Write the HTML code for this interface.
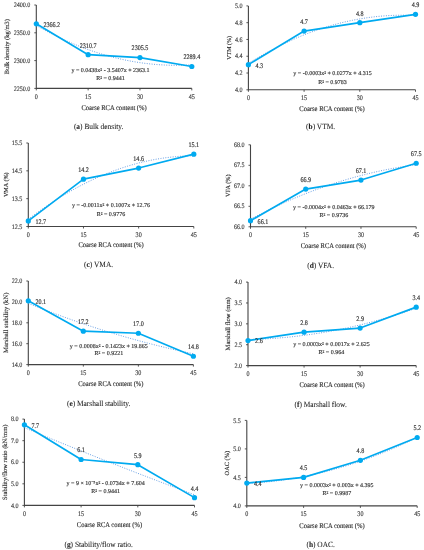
<!DOCTYPE html>
<html><head><meta charset="utf-8"><style>
html,body{margin:0;padding:0;background:#fff;width:424px;height:550px;overflow:hidden}
svg{display:block;will-change:transform}
text{font-family:"Liberation Serif",serif;fill:#2e2e2e;stroke:#2e2e2e;stroke-width:0.14px;text-rendering:geometricPrecision}
.tk{fill:#3e3e3e;stroke:#3e3e3e}
.cap{fill:#1a1a1a;stroke:#1a1a1a;stroke-width:0.06px}
</style></head><body>
<svg width="424" height="550" viewBox="0 0 424 550">
<path d="M36.3 5V88.4H191.8" fill="none" stroke="#444" stroke-width="1.1"/>
<text transform="translate(30.4 90.5) scale(1 1.1)" text-anchor="end" font-size="6.1" class="tk">2250.0</text>
<text transform="translate(30.4 62.7) scale(1 1.1)" text-anchor="end" font-size="6.1" class="tk">2300.0</text>
<text transform="translate(30.4 34.9) scale(1 1.1)" text-anchor="end" font-size="6.1" class="tk">2350.0</text>
<text transform="translate(30.4 7.1) scale(1 1.1)" text-anchor="end" font-size="6.1" class="tk">2400.0</text>
<text transform="translate(36.3 98.7) scale(1 1.15)" text-anchor="middle" font-size="6.1" class="tk">0</text>
<text transform="translate(88.13 98.7) scale(1 1.15)" text-anchor="middle" font-size="6.1" class="tk">15</text>
<text transform="translate(139.97 98.7) scale(1 1.15)" text-anchor="middle" font-size="6.1" class="tk">30</text>
<text transform="translate(191.8 98.7) scale(1 1.15)" text-anchor="middle" font-size="6.1" class="tk">45</text>
<path d="M34.3 88.4h2M34.3 60.6h2M34.3 32.8h2M34.3 5h2M36.3 88.4v2M88.13 88.4v2M139.97 88.4v2M191.8 88.4v2" stroke="#444" stroke-width="0.9"/>
<polyline points="36.3,25.49 39.76,27.44 43.21,29.33 46.67,31.18 50.12,32.98 53.58,34.73 57.03,36.43 60.49,38.08 63.94,39.69 67.4,41.24 70.86,42.75 74.31,44.2 77.77,45.61 81.22,46.97 84.68,48.28 88.13,49.55 91.59,50.76 95.04,51.93 98.5,53.04 101.96,54.11 105.41,55.13 108.87,56.1 112.32,57.02 115.78,57.9 119.23,58.72 122.69,59.5 126.14,60.22 129.6,60.9 133.06,61.53 136.51,62.11 139.97,62.65 143.42,63.13 146.88,63.57 150.33,63.95 153.79,64.29 157.24,64.58 160.7,64.82 164.16,65.01 167.61,65.15 171.07,65.25 174.52,65.29 177.98,65.29 181.43,65.24 184.89,65.14 188.34,64.99 191.8,64.79" fill="none" stroke="#5a96e0" stroke-width="0.95" stroke-dasharray="0.95 1.5"/>
<polyline points="36.3,23.79 88.13,54.65 139.97,57.54 191.8,66.49" fill="none" stroke="#00aaf0" stroke-width="1.7" stroke-linejoin="round"/>
<circle cx="36.3" cy="23.79" r="2.6" fill="#00aaf0"/>
<circle cx="88.13" cy="54.65" r="2.6" fill="#00aaf0"/>
<circle cx="139.97" cy="57.54" r="2.6" fill="#00aaf0"/>
<circle cx="191.8" cy="66.49" r="2.6" fill="#00aaf0"/>
<text transform="translate(43.4 26.69) scale(1 1.15)" font-size="6.1">2366.2</text>
<text transform="translate(88.13 47.55) scale(1 1.15)" text-anchor="middle" font-size="6.1">2310.7</text>
<text transform="translate(139.97 50.44) scale(1 1.15)" text-anchor="middle" font-size="6.1">2305.5</text>
<text transform="translate(191.8 59.39) scale(1 1.15)" text-anchor="middle" font-size="6.1">2289.4</text>
<text transform="translate(110.5 72.3) scale(1 1.0)" text-anchor="middle" font-size="6.0">y = 0.0438x² - 3.5407x + 2363.1</text>
<text transform="translate(110.5 80.1) scale(1 1.0)" text-anchor="middle" font-size="6.0">R² = 0.9441</text>
<text transform="translate(9.3 46.7) rotate(-90) scale(1 1.0)" text-anchor="middle" font-size="6.46">Bulk density (kg/m3)</text>
<text transform="translate(114.05 109.7) scale(1 1.1)" text-anchor="middle" font-size="6.55">Coarse RCA content (%)</text>
<text transform="translate(98.6 129.1) scale(1 1.08)" text-anchor="middle" font-size="7.4" class="cap">(<tspan font-weight="bold">a</tspan>) Bulk density.</text>
<path d="M248.4 5.9V89.8H415.5" fill="none" stroke="#444" stroke-width="1.1"/>
<text transform="translate(242.5 91.9) scale(1 1.1)" text-anchor="end" font-size="6.1" class="tk">4.0</text>
<text transform="translate(242.5 75.12) scale(1 1.1)" text-anchor="end" font-size="6.1" class="tk">4.2</text>
<text transform="translate(242.5 58.34) scale(1 1.1)" text-anchor="end" font-size="6.1" class="tk">4.4</text>
<text transform="translate(242.5 41.56) scale(1 1.1)" text-anchor="end" font-size="6.1" class="tk">4.6</text>
<text transform="translate(242.5 24.78) scale(1 1.1)" text-anchor="end" font-size="6.1" class="tk">4.8</text>
<text transform="translate(242.5 8) scale(1 1.1)" text-anchor="end" font-size="6.1" class="tk">5.0</text>
<text transform="translate(248.4 100.1) scale(1 1.15)" text-anchor="middle" font-size="6.1" class="tk">0</text>
<text transform="translate(304.1 100.1) scale(1 1.15)" text-anchor="middle" font-size="6.1" class="tk">15</text>
<text transform="translate(359.8 100.1) scale(1 1.15)" text-anchor="middle" font-size="6.1" class="tk">30</text>
<text transform="translate(415.5 100.1) scale(1 1.15)" text-anchor="middle" font-size="6.1" class="tk">45</text>
<path d="M246.4 89.8h2M246.4 73.02h2M246.4 56.24h2M246.4 39.46h2M246.4 22.68h2M246.4 5.9h2M248.4 89.8v2M304.1 89.8v2M359.8 89.8v2M415.5 89.8v2" stroke="#444" stroke-width="0.9"/>
<polyline points="248.4,63.37 252.11,61.08 255.83,58.84 259.54,56.66 263.25,54.53 266.97,52.46 270.68,50.45 274.39,48.49 278.11,46.59 281.82,44.75 285.53,42.96 289.25,41.22 292.96,39.54 296.67,37.92 300.39,36.36 304.1,34.85 307.81,33.39 311.53,31.99 315.24,30.65 318.95,29.36 322.67,28.13 326.38,26.96 330.09,25.84 333.81,24.78 337.52,23.77 341.23,22.82 344.95,21.92 348.66,21.09 352.37,20.3 356.09,19.58 359.8,18.9 363.51,18.29 367.23,17.73 370.94,17.23 374.65,16.78 378.37,16.39 382.08,16.05 385.79,15.77 389.51,15.55 393.22,15.38 396.93,15.27 400.65,15.21 404.36,15.21 408.07,15.27 411.79,15.38 415.5,15.55" fill="none" stroke="#5a96e0" stroke-width="0.95" stroke-dasharray="0.95 1.5"/>
<polyline points="248.4,64.63 304.1,31.07 359.8,22.68 415.5,14.29" fill="none" stroke="#00aaf0" stroke-width="1.7" stroke-linejoin="round"/>
<circle cx="248.4" cy="64.63" r="2.6" fill="#00aaf0"/>
<circle cx="304.1" cy="31.07" r="2.6" fill="#00aaf0"/>
<circle cx="359.8" cy="22.68" r="2.6" fill="#00aaf0"/>
<circle cx="415.5" cy="14.29" r="2.6" fill="#00aaf0"/>
<text transform="translate(255.5 67.53) scale(1 1.15)" font-size="6.1">4.3</text>
<text transform="translate(304.1 23.97) scale(1 1.15)" text-anchor="middle" font-size="6.1">4.7</text>
<text transform="translate(359.8 15.58) scale(1 1.15)" text-anchor="middle" font-size="6.1">4.8</text>
<text transform="translate(415.5 7.19) scale(1 1.15)" text-anchor="middle" font-size="6.1">4.9</text>
<text transform="translate(332.5 75.3) scale(1 1.0)" text-anchor="middle" font-size="6.0">y = -0.0003x² + 0.0277x + 4.315</text>
<text transform="translate(332.5 83.7) scale(1 1.0)" text-anchor="middle" font-size="6.0">R² = 0.9783</text>
<text transform="translate(230.9 47.85) rotate(-90) scale(1 1.0)" text-anchor="middle" font-size="6.02">VTM (%)</text>
<text transform="translate(331.95 111) scale(1 1.1)" text-anchor="middle" font-size="6.55">Coarse RCA content (%)</text>
<text transform="translate(320.6 128.8) scale(1 1.08)" text-anchor="middle" font-size="7.4" class="cap">(<tspan font-weight="bold">b</tspan>) VTM.</text>
<path d="M28.3 143V226.5H193.8" fill="none" stroke="#444" stroke-width="1.1"/>
<text transform="translate(22.4 228.6) scale(1 1.1)" text-anchor="end" font-size="6.1" class="tk">12.5</text>
<text transform="translate(22.4 200.77) scale(1 1.1)" text-anchor="end" font-size="6.1" class="tk">13.5</text>
<text transform="translate(22.4 172.93) scale(1 1.1)" text-anchor="end" font-size="6.1" class="tk">14.5</text>
<text transform="translate(22.4 145.1) scale(1 1.1)" text-anchor="end" font-size="6.1" class="tk">15.5</text>
<text transform="translate(28.3 236.8) scale(1 1.15)" text-anchor="middle" font-size="6.1" class="tk">0</text>
<text transform="translate(83.47 236.8) scale(1 1.15)" text-anchor="middle" font-size="6.1" class="tk">15</text>
<text transform="translate(138.63 236.8) scale(1 1.15)" text-anchor="middle" font-size="6.1" class="tk">30</text>
<text transform="translate(193.8 236.8) scale(1 1.15)" text-anchor="middle" font-size="6.1" class="tk">45</text>
<path d="M26.3 226.5h2M26.3 198.67h2M26.3 170.83h2M26.3 143h2M28.3 226.5v2M83.47 226.5v2M138.63 226.5v2M193.8 226.5v2" stroke="#444" stroke-width="0.9"/>
<polyline points="28.3,219.26 31.98,216.49 35.66,213.78 39.33,211.14 43.01,208.55 46.69,206.03 50.37,203.57 54.04,201.17 57.72,198.83 61.4,196.55 65.08,194.34 68.76,192.18 72.43,190.09 76.11,188.07 79.79,186.1 83.47,184.19 87.14,182.35 90.82,180.57 94.5,178.85 98.18,177.19 101.86,175.6 105.53,174.06 109.21,172.59 112.89,171.18 116.57,169.83 120.24,168.54 123.92,167.32 127.6,166.16 131.28,165.06 134.96,164.02 138.63,163.04 142.31,162.12 145.99,161.27 149.67,160.48 153.34,159.75 157.02,159.08 160.7,158.48 164.38,157.93 168.06,157.45 171.73,157.03 175.41,156.67 179.09,156.37 182.77,156.14 186.44,155.96 190.12,155.85 193.8,155.8" fill="none" stroke="#5a96e0" stroke-width="0.95" stroke-dasharray="0.95 1.5"/>
<polyline points="28.3,220.93 83.47,179.18 138.63,168.05 193.8,154.13" fill="none" stroke="#00aaf0" stroke-width="1.7" stroke-linejoin="round"/>
<circle cx="28.3" cy="220.93" r="2.6" fill="#00aaf0"/>
<circle cx="83.47" cy="179.18" r="2.6" fill="#00aaf0"/>
<circle cx="138.63" cy="168.05" r="2.6" fill="#00aaf0"/>
<circle cx="193.8" cy="154.13" r="2.6" fill="#00aaf0"/>
<text transform="translate(35.4 223.83) scale(1 1.15)" font-size="6.1">12.7</text>
<text transform="translate(83.47 172.08) scale(1 1.15)" text-anchor="middle" font-size="6.1">14.2</text>
<text transform="translate(138.63 160.95) scale(1 1.15)" text-anchor="middle" font-size="6.1">14.6</text>
<text transform="translate(193.8 147.03) scale(1 1.15)" text-anchor="middle" font-size="6.1">15.1</text>
<text transform="translate(111 207.1) scale(1 1.0)" text-anchor="middle" font-size="6.0">y = -0.0011x² + 0.1007x + 12.76</text>
<text transform="translate(111 215.5) scale(1 1.0)" text-anchor="middle" font-size="6.0">R² = 0.9776</text>
<text transform="translate(7.8 184.75) rotate(-90) scale(1 1.0)" text-anchor="middle" font-size="6.13">VMA (%)</text>
<text transform="translate(111.05 246.9) scale(1 1.1)" text-anchor="middle" font-size="6.55">Coarse RCA content (%)</text>
<text transform="translate(98.6 266.9) scale(1 1.08)" text-anchor="middle" font-size="7.4" class="cap">(<tspan font-weight="bold">c</tspan>) VMA.</text>
<path d="M250.5 144.8V226.8H416.2" fill="none" stroke="#444" stroke-width="1.1"/>
<text transform="translate(244.6 228.9) scale(1 1.1)" text-anchor="end" font-size="6.1" class="tk">66.0</text>
<text transform="translate(244.6 208.4) scale(1 1.1)" text-anchor="end" font-size="6.1" class="tk">66.5</text>
<text transform="translate(244.6 187.9) scale(1 1.1)" text-anchor="end" font-size="6.1" class="tk">67.0</text>
<text transform="translate(244.6 167.4) scale(1 1.1)" text-anchor="end" font-size="6.1" class="tk">67.5</text>
<text transform="translate(244.6 146.9) scale(1 1.1)" text-anchor="end" font-size="6.1" class="tk">68.0</text>
<text transform="translate(250.5 237.1) scale(1 1.15)" text-anchor="middle" font-size="6.1" class="tk">0</text>
<text transform="translate(305.73 237.1) scale(1 1.15)" text-anchor="middle" font-size="6.1" class="tk">15</text>
<text transform="translate(360.97 237.1) scale(1 1.15)" text-anchor="middle" font-size="6.1" class="tk">30</text>
<text transform="translate(416.2 237.1) scale(1 1.15)" text-anchor="middle" font-size="6.1" class="tk">45</text>
<path d="M248.5 226.8h2M248.5 206.3h2M248.5 185.8h2M248.5 165.3h2M248.5 144.8h2M250.5 226.8v2M305.73 226.8v2M360.97 226.8v2M416.2 226.8v2" stroke="#444" stroke-width="0.9"/>
<polyline points="250.5,219.13 254.18,217.2 257.86,215.31 261.55,213.44 265.23,211.61 268.91,209.81 272.59,208.05 276.28,206.31 279.96,204.61 283.64,202.95 287.32,201.31 291,199.71 294.69,198.14 298.37,196.6 302.05,195.1 305.73,193.63 309.42,192.19 313.1,190.79 316.78,189.42 320.46,188.08 324.14,186.77 327.83,185.5 331.51,184.26 335.19,183.05 338.87,181.87 342.56,180.73 346.24,179.62 349.92,178.54 353.6,177.5 357.28,176.49 360.97,175.51 364.65,174.56 368.33,173.65 372.01,172.77 375.7,171.92 379.38,171.11 383.06,170.33 386.74,169.58 390.42,168.86 394.11,168.18 397.79,167.53 401.47,166.91 405.15,166.33 408.84,165.77 412.52,165.25 416.2,164.77" fill="none" stroke="#5a96e0" stroke-width="0.95" stroke-dasharray="0.95 1.5"/>
<polyline points="250.5,220.65 305.73,189.08 360.97,180.06 416.2,163.25" fill="none" stroke="#00aaf0" stroke-width="1.7" stroke-linejoin="round"/>
<circle cx="250.5" cy="220.65" r="2.6" fill="#00aaf0"/>
<circle cx="305.73" cy="189.08" r="2.6" fill="#00aaf0"/>
<circle cx="360.97" cy="180.06" r="2.6" fill="#00aaf0"/>
<circle cx="416.2" cy="163.25" r="2.6" fill="#00aaf0"/>
<text transform="translate(257.6 223.55) scale(1 1.15)" font-size="6.1">66.1</text>
<text transform="translate(305.73 181.98) scale(1 1.15)" text-anchor="middle" font-size="6.1">66.9</text>
<text transform="translate(360.97 172.96) scale(1 1.15)" text-anchor="middle" font-size="6.1">67.1</text>
<text transform="translate(416.2 156.15) scale(1 1.15)" text-anchor="middle" font-size="6.1">67.5</text>
<text transform="translate(333.8 208.5) scale(1 1.0)" text-anchor="middle" font-size="6.0">y = -0.0004x² + 0.0463x + 66.179</text>
<text transform="translate(333.8 216.9) scale(1 1.0)" text-anchor="middle" font-size="6.0">R² = 0.9736</text>
<text transform="translate(230.1 185.8) rotate(-90) scale(1 1.0)" text-anchor="middle" font-size="6.24">VFA (%)</text>
<text transform="translate(333.35 247.5) scale(1 1.1)" text-anchor="middle" font-size="6.55">Coarse RCA content (%)</text>
<text transform="translate(320.6 267.5) scale(1 1.08)" text-anchor="middle" font-size="7.4" class="cap">(<tspan font-weight="bold">d</tspan>) VFA.</text>
<path d="M28.3 281V364.6H193.4" fill="none" stroke="#444" stroke-width="1.1"/>
<text transform="translate(22.4 366.7) scale(1 1.1)" text-anchor="end" font-size="6.1" class="tk">14.0</text>
<text transform="translate(22.4 345.8) scale(1 1.1)" text-anchor="end" font-size="6.1" class="tk">16.0</text>
<text transform="translate(22.4 324.9) scale(1 1.1)" text-anchor="end" font-size="6.1" class="tk">18.0</text>
<text transform="translate(22.4 304) scale(1 1.1)" text-anchor="end" font-size="6.1" class="tk">20.0</text>
<text transform="translate(22.4 283.1) scale(1 1.1)" text-anchor="end" font-size="6.1" class="tk">22.0</text>
<text transform="translate(28.3 374.9) scale(1 1.15)" text-anchor="middle" font-size="6.1" class="tk">0</text>
<text transform="translate(83.33 374.9) scale(1 1.15)" text-anchor="middle" font-size="6.1" class="tk">15</text>
<text transform="translate(138.37 374.9) scale(1 1.15)" text-anchor="middle" font-size="6.1" class="tk">30</text>
<text transform="translate(193.4 374.9) scale(1 1.15)" text-anchor="middle" font-size="6.1" class="tk">45</text>
<path d="M26.3 364.6h2M26.3 343.7h2M26.3 322.8h2M26.3 301.9h2M26.3 281h2M28.3 364.6v2M83.33 364.6v2M138.37 364.6v2M193.4 364.6v2" stroke="#444" stroke-width="0.9"/>
<polyline points="28.3,303.31 31.97,304.79 35.64,306.25 39.31,307.7 42.98,309.13 46.64,310.54 50.31,311.94 53.98,313.32 57.65,314.69 61.32,316.04 64.99,317.37 68.66,318.69 72.33,319.99 76,321.27 79.66,322.54 83.33,323.79 87,325.03 90.67,326.25 94.34,327.45 98.01,328.64 101.68,329.81 105.35,330.96 109.02,332.1 112.68,333.22 116.35,334.33 120.02,335.42 123.69,336.49 127.36,337.54 131.03,338.59 134.7,339.61 138.37,340.62 142.04,341.61 145.7,342.58 149.37,343.54 153.04,344.49 156.71,345.41 160.38,346.32 164.05,347.22 167.72,348.09 171.39,348.96 175.06,349.8 178.72,350.63 182.39,351.44 186.06,352.24 189.73,353.02 193.4,353.78" fill="none" stroke="#5a96e0" stroke-width="0.95" stroke-dasharray="0.95 1.5"/>
<polyline points="28.3,300.86 83.33,331.16 138.37,333.25 193.4,356.24" fill="none" stroke="#00aaf0" stroke-width="1.7" stroke-linejoin="round"/>
<circle cx="28.3" cy="300.86" r="2.6" fill="#00aaf0"/>
<circle cx="83.33" cy="331.16" r="2.6" fill="#00aaf0"/>
<circle cx="138.37" cy="333.25" r="2.6" fill="#00aaf0"/>
<circle cx="193.4" cy="356.24" r="2.6" fill="#00aaf0"/>
<text transform="translate(35.4 303.75) scale(1 1.15)" font-size="6.1">20.1</text>
<text transform="translate(83.33 324.06) scale(1 1.15)" text-anchor="middle" font-size="6.1">17.2</text>
<text transform="translate(138.37 326.15) scale(1 1.15)" text-anchor="middle" font-size="6.1">17.0</text>
<text transform="translate(193.4 349.14) scale(1 1.15)" text-anchor="middle" font-size="6.1">14.8</text>
<text transform="translate(108.8 348.1) scale(1 1.0)" text-anchor="middle" font-size="6.0">y = 0.0008x² - 0.1423x + 19.865</text>
<text transform="translate(108.8 355.3) scale(1 1.0)" text-anchor="middle" font-size="6.0">R² = 0.9221</text>
<text transform="translate(8.2 322.8) rotate(-90) scale(1 1.0)" text-anchor="middle" font-size="6.59">Marshall stability (kN)</text>
<text transform="translate(110.85 385.6) scale(1 1.1)" text-anchor="middle" font-size="6.55">Coarse RCA content (%)</text>
<text transform="translate(98.6 405.5) scale(1 1.08)" text-anchor="middle" font-size="7.4" class="cap">(<tspan font-weight="bold">e</tspan>) Marshall stability.</text>
<path d="M248 282.1V365.6H416.2" fill="none" stroke="#444" stroke-width="1.1"/>
<text transform="translate(242.1 367.7) scale(1 1.1)" text-anchor="end" font-size="6.1" class="tk">2.0</text>
<text transform="translate(242.1 346.83) scale(1 1.1)" text-anchor="end" font-size="6.1" class="tk">2.5</text>
<text transform="translate(242.1 325.95) scale(1 1.1)" text-anchor="end" font-size="6.1" class="tk">3.0</text>
<text transform="translate(242.1 305.08) scale(1 1.1)" text-anchor="end" font-size="6.1" class="tk">3.5</text>
<text transform="translate(242.1 284.2) scale(1 1.1)" text-anchor="end" font-size="6.1" class="tk">4.0</text>
<text transform="translate(248 375.9) scale(1 1.15)" text-anchor="middle" font-size="6.1" class="tk">0</text>
<text transform="translate(304.07 375.9) scale(1 1.15)" text-anchor="middle" font-size="6.1" class="tk">15</text>
<text transform="translate(360.13 375.9) scale(1 1.15)" text-anchor="middle" font-size="6.1" class="tk">30</text>
<text transform="translate(416.2 375.9) scale(1 1.15)" text-anchor="middle" font-size="6.1" class="tk">45</text>
<path d="M246 365.6h2M246 344.73h2M246 323.85h2M246 302.98h2M246 282.1h2M248 365.6v2M304.07 365.6v2M360.13 365.6v2M416.2 365.6v2" stroke="#444" stroke-width="0.9"/>
<polyline points="248,339.51 251.74,339.42 255.48,339.31 259.21,339.17 262.95,339.01 266.69,338.81 270.43,338.59 274.16,338.34 277.9,338.06 281.64,337.75 285.38,337.42 289.12,337.06 292.85,336.67 296.59,336.25 300.33,335.8 304.07,335.33 307.8,334.83 311.54,334.3 315.28,333.74 319.02,333.16 322.76,332.55 326.49,331.91 330.23,331.24 333.97,330.54 337.71,329.82 341.44,329.07 345.18,328.29 348.92,327.48 352.66,326.65 356.4,325.78 360.13,324.89 363.87,323.98 367.61,323.03 371.35,322.05 375.08,321.05 378.82,320.02 382.56,318.97 386.3,317.88 390.04,316.77 393.77,315.63 397.51,314.46 401.25,313.26 404.99,312.03 408.72,310.78 412.46,309.5 416.2,308.19" fill="none" stroke="#5a96e0" stroke-width="0.95" stroke-dasharray="0.95 1.5"/>
<polyline points="248,340.55 304.07,332.2 360.13,328.03 416.2,307.15" fill="none" stroke="#00aaf0" stroke-width="1.7" stroke-linejoin="round"/>
<circle cx="248" cy="340.55" r="2.6" fill="#00aaf0"/>
<circle cx="304.07" cy="332.2" r="2.6" fill="#00aaf0"/>
<circle cx="360.13" cy="328.03" r="2.6" fill="#00aaf0"/>
<circle cx="416.2" cy="307.15" r="2.6" fill="#00aaf0"/>
<text transform="translate(255.1 343.45) scale(1 1.15)" font-size="6.1">2.6</text>
<text transform="translate(304.07 325.1) scale(1 1.15)" text-anchor="middle" font-size="6.1">2.8</text>
<text transform="translate(360.13 320.93) scale(1 1.15)" text-anchor="middle" font-size="6.1">2.9</text>
<text transform="translate(416.2 300.05) scale(1 1.15)" text-anchor="middle" font-size="6.1">3.4</text>
<text transform="translate(331.4 346.4) scale(1 1.0)" text-anchor="middle" font-size="6.0">y = 0.0003x² + 0.0017x + 2.625</text>
<text transform="translate(331.4 353.5) scale(1 1.0)" text-anchor="middle" font-size="6.0">R² = 0.964</text>
<text transform="translate(230 323.85) rotate(-90) scale(1 1.0)" text-anchor="middle" font-size="6.55">Marshall flow (mm)</text>
<text transform="translate(332.1 387.2) scale(1 1.1)" text-anchor="middle" font-size="6.55">Coarse RCA content (%)</text>
<text transform="translate(320.6 406.5) scale(1 1.08)" text-anchor="middle" font-size="7.4" class="cap">(<tspan font-weight="bold">f</tspan>) Marshall flow.</text>
<path d="M24.4 419.1V505.4H194.5" fill="none" stroke="#444" stroke-width="1.1"/>
<text transform="translate(18.5 507.5) scale(1 1.1)" text-anchor="end" font-size="6.1" class="tk">4.0</text>
<text transform="translate(18.5 485.93) scale(1 1.1)" text-anchor="end" font-size="6.1" class="tk">5.0</text>
<text transform="translate(18.5 464.35) scale(1 1.1)" text-anchor="end" font-size="6.1" class="tk">6.0</text>
<text transform="translate(18.5 442.78) scale(1 1.1)" text-anchor="end" font-size="6.1" class="tk">7.0</text>
<text transform="translate(18.5 421.2) scale(1 1.1)" text-anchor="end" font-size="6.1" class="tk">8.0</text>
<text transform="translate(24.4 515.7) scale(1 1.15)" text-anchor="middle" font-size="6.1" class="tk">0</text>
<text transform="translate(81.1 515.7) scale(1 1.15)" text-anchor="middle" font-size="6.1" class="tk">15</text>
<text transform="translate(137.8 515.7) scale(1 1.15)" text-anchor="middle" font-size="6.1" class="tk">30</text>
<text transform="translate(194.5 515.7) scale(1 1.15)" text-anchor="middle" font-size="6.1" class="tk">45</text>
<path d="M22.4 505.4h2M22.4 483.82h2M22.4 462.25h2M22.4 440.68h2M22.4 419.1h2M24.4 505.4v2M81.1 505.4v2M137.8 505.4v2M194.5 505.4v2" stroke="#444" stroke-width="0.9"/>
<polyline points="24.4,427.66 28.18,429.24 31.96,430.81 35.74,432.38 39.52,433.95 43.3,435.51 47.08,437.07 50.86,438.63 54.64,440.18 58.42,441.73 62.2,443.27 65.98,444.81 69.76,446.34 73.54,447.87 77.32,449.4 81.1,450.92 84.88,452.44 88.66,453.96 92.44,455.47 96.22,456.98 100,458.48 103.78,459.98 107.56,461.48 111.34,462.97 115.12,464.45 118.9,465.94 122.68,467.42 126.46,468.89 130.24,470.36 134.02,471.83 137.8,473.3 141.58,474.75 145.36,476.21 149.14,477.66 152.92,479.11 156.7,480.55 160.48,481.99 164.26,483.43 168.04,484.86 171.82,486.29 175.6,487.71 179.38,489.13 183.16,490.55 186.94,491.96 190.72,493.37 194.5,494.77" fill="none" stroke="#5a96e0" stroke-width="0.95" stroke-dasharray="0.95 1.5"/>
<polyline points="24.4,424.8 81.1,459.51 137.8,464.71 194.5,497.63" fill="none" stroke="#00aaf0" stroke-width="1.7" stroke-linejoin="round"/>
<circle cx="24.4" cy="424.8" r="2.6" fill="#00aaf0"/>
<circle cx="81.1" cy="459.51" r="2.6" fill="#00aaf0"/>
<circle cx="137.8" cy="464.71" r="2.6" fill="#00aaf0"/>
<circle cx="194.5" cy="497.63" r="2.6" fill="#00aaf0"/>
<text transform="translate(31.5 427.7) scale(1 1.15)" font-size="6.1">7.7</text>
<text transform="translate(81.1 452.41) scale(1 1.15)" text-anchor="middle" font-size="6.1">6.1</text>
<text transform="translate(137.8 457.61) scale(1 1.15)" text-anchor="middle" font-size="6.1">5.9</text>
<text transform="translate(194.5 490.53) scale(1 1.15)" text-anchor="middle" font-size="6.1">4.4</text>
<text transform="translate(105.6 484.8) scale(1 1.0)" text-anchor="middle" font-size="6.0">y = 9 × 10⁻⁵x² - 0.0734x + 7.604</text>
<text transform="translate(105.6 492.5) scale(1 1.0)" text-anchor="middle" font-size="6.0">R² = 0.9441</text>
<text transform="translate(6.7 462.25) rotate(-90) scale(1 1.0)" text-anchor="middle" font-size="6.53">Stability/flow ratio (kN/mm)</text>
<text transform="translate(109.45 527.2) scale(1 1.1)" text-anchor="middle" font-size="6.55">Coarse RCA content (%)</text>
<text transform="translate(98.6 546.5) scale(1 1.08)" text-anchor="middle" font-size="7.4" class="cap">(<tspan font-weight="bold">g</tspan>) Stability/flow ratio.</text>
<path d="M246.8 420.4V505.9H417.2" fill="none" stroke="#444" stroke-width="1.1"/>
<text transform="translate(240.9 508) scale(1 1.1)" text-anchor="end" font-size="6.1" class="tk">4.0</text>
<text transform="translate(240.9 479.5) scale(1 1.1)" text-anchor="end" font-size="6.1" class="tk">4.5</text>
<text transform="translate(240.9 451) scale(1 1.1)" text-anchor="end" font-size="6.1" class="tk">5.0</text>
<text transform="translate(240.9 422.5) scale(1 1.1)" text-anchor="end" font-size="6.1" class="tk">5.5</text>
<text transform="translate(246.8 516.2) scale(1 1.15)" text-anchor="middle" font-size="6.1" class="tk">0</text>
<text transform="translate(303.6 516.2) scale(1 1.15)" text-anchor="middle" font-size="6.1" class="tk">15</text>
<text transform="translate(360.4 516.2) scale(1 1.15)" text-anchor="middle" font-size="6.1" class="tk">30</text>
<text transform="translate(417.2 516.2) scale(1 1.15)" text-anchor="middle" font-size="6.1" class="tk">45</text>
<path d="M244.8 505.9h2M244.8 477.4h2M244.8 448.9h2M244.8 420.4h2M246.8 505.9v2M303.6 505.9v2M360.4 505.9v2M417.2 505.9v2" stroke="#444" stroke-width="0.9"/>
<polyline points="246.8,483.39 250.59,483.2 254.37,482.97 258.16,482.7 261.95,482.4 265.73,482.06 269.52,481.68 273.31,481.26 277.09,480.8 280.88,480.31 284.67,479.78 288.45,479.21 292.24,478.6 296.03,477.95 299.81,477.27 303.6,476.55 307.39,475.79 311.17,474.99 314.96,474.15 318.75,473.28 322.53,472.37 326.32,471.42 330.11,470.43 333.89,469.4 337.68,468.34 341.47,467.24 345.25,466.1 349.04,464.92 352.83,463.7 356.61,462.45 360.4,461.16 364.19,459.83 367.97,458.46 371.76,457.05 375.55,455.61 379.33,454.13 383.12,452.61 386.91,451.05 390.69,449.45 394.48,447.82 398.27,446.15 402.05,444.44 405.84,442.69 409.63,440.9 413.41,439.08 417.2,437.22" fill="none" stroke="#5a96e0" stroke-width="0.95" stroke-dasharray="0.95 1.5"/>
<polyline points="246.8,483.1 303.6,477.4 360.4,460.3 417.2,437.5" fill="none" stroke="#00aaf0" stroke-width="1.7" stroke-linejoin="round"/>
<circle cx="246.8" cy="483.1" r="2.6" fill="#00aaf0"/>
<circle cx="303.6" cy="477.4" r="2.6" fill="#00aaf0"/>
<circle cx="360.4" cy="460.3" r="2.6" fill="#00aaf0"/>
<circle cx="417.2" cy="437.5" r="2.6" fill="#00aaf0"/>
<text transform="translate(253.9 486) scale(1 1.15)" font-size="6.1">4.4</text>
<text transform="translate(303.6 470.3) scale(1 1.15)" text-anchor="middle" font-size="6.1">4.5</text>
<text transform="translate(360.4 453.2) scale(1 1.15)" text-anchor="middle" font-size="6.1">4.8</text>
<text transform="translate(417.2 430.4) scale(1 1.15)" text-anchor="middle" font-size="6.1">5.2</text>
<text transform="translate(336.8 487.3) scale(1 1.0)" text-anchor="middle" font-size="6.0">y = 0.0003x² + 0.003x + 4.395</text>
<text transform="translate(336.8 495.1) scale(1 1.0)" text-anchor="middle" font-size="6.0">R² = 0.9987</text>
<text transform="translate(229.2 463.15) rotate(-90) scale(1 1.0)" text-anchor="middle" font-size="6.37">OAC (%)</text>
<text transform="translate(332 528.1) scale(1 1.1)" text-anchor="middle" font-size="6.55">Coarse RCA content (%)</text>
<text transform="translate(320.6 546.5) scale(1 1.08)" text-anchor="middle" font-size="7.4" class="cap">(<tspan font-weight="bold">h</tspan>) OAC.</text>
</svg>
</body></html>
